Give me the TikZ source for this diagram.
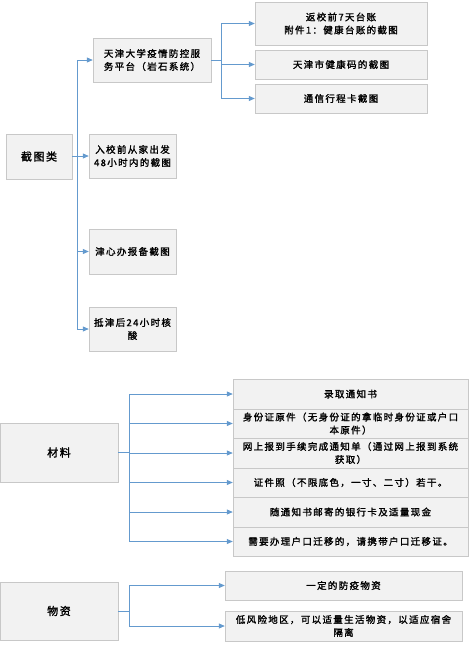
\documentclass[tikz,border=0pt]{standalone}
\usepackage{fontspec}
\newfontfamily\cjk[LetterSpace=14,FakeBold=1.6]{Noto Sans CJK SC}
\usetikzlibrary{arrows.meta,shadows}
\definecolor{linkblue}{RGB}{100,154,206}
\definecolor{boxfill}{RGB}{242,242,242}
\definecolor{boxline}{RGB}{200,200,200}
\tikzset{
  box/.style={draw=boxline,fill=boxfill,align=center,inner sep=0pt,
    drop shadow={shadow xshift=1pt,shadow yshift=-1.2pt,opacity=0.25},
    font=\cjk\fontsize{9.5}{13}\selectfont},
  head/.style={box,minimum width=118pt,font=\cjk\fontsize{11}{13}\selectfont},
  link/.style={draw=linkblue,line width=0.8pt,-{Triangle[length=6pt,width=5pt]}}
}
\begin{document}
\begin{tikzpicture}[x=1pt,y=-1pt]
  \useasboundingbox (0,0) rectangle (474,649);
  % screenshots
  \node[head,minimum width=66pt,minimum height=45pt] (jt) at (39,156.5) {截图类};
  \node[box,minimum width=118pt,minimum height=44pt] (pt) at (152,60) {天津大学疫情防控服\\务平台（岩石系统）};
  \node[box,minimum width=87pt,minimum height=44pt] (rx) at (132.5,156) {入校前从家出发\\48小时内的截图};
  \node[box,minimum width=87pt,minimum height=45pt] (jx) at (132.5,251.5) {津心办报备截图};
  \node[box,minimum width=87pt,minimum height=44pt] (dj) at (132.5,329) {抵津后24小时核\\酸};
  \node[box,minimum width=172pt,minimum height=43pt] (fx) at (341,23.5) {返校前7天台账\\附件1：健康台账的截图};
  \node[box,minimum width=172pt,minimum height=29pt] (jk) at (341,64.5) {天津市健康码的截图};
  \node[box,minimum width=172pt,minimum height=29pt] (tx) at (341,98.5) {通信行程卡截图};
  \foreach \n in {pt,rx,jx,dj} \draw[link] (jt.east) -- ++(5,0) |- (\n.west);
  \foreach \n in {fx,jk,tx} \draw[link] (pt.east) -- ++(10,0) |- (\n.west);
  % materials
  \node[head,minimum height=59pt] (cl) at (59,452.5) {材料};
  \foreach \i/\t in {0/录取通知书,
      1/{身份证原件（无身份证的拿临时身份证或户口\\本原件）},
      2/{网上报到手续完成通知单（通过网上报到系统\\获取）},
      3/{证件照（不限底色，一寸、二寸）若干。},
      4/{随通知书邮寄的银行卡及适量现金},
      5/{需要办理户口迁移的，请携带户口迁移证。}} {
    \node[box,minimum width=235pt,minimum height=29.5pt] (m\i) at (350.5,394+29.5*\i) {\t};
    \draw[link] (cl.east) -- ++(11,0) |- (m\i.west);
  }
  % supplies
  \node[head,minimum height=58pt] (wz) at (59,611) {物资};
  \node[box,minimum width=237pt,minimum height=29pt] (w1) at (343.5,585.5) {一定的防疫物资};
  \node[box,minimum width=237pt,minimum height=30pt] (w2) at (343.5,626) {低风险地区，可以适量生活物资，以适应宿舍\\隔离};
  \foreach \n in {w1,w2} \draw[link] (wz.east) -- ++(11,0) |- (\n.west);
\end{tikzpicture}
\end{document}
